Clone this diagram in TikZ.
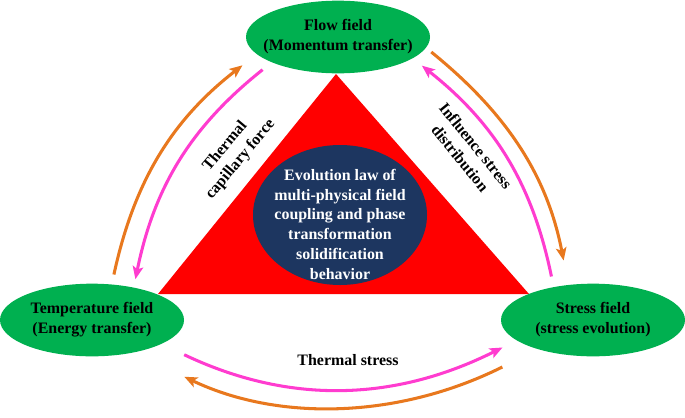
\documentclass[tikz,border=0pt]{standalone}
\usepackage{fontspec}
\setmainfont{Liberation Serif}
\usepackage{tikz}
\usetikzlibrary{arrows.meta}
\usetikzlibrary{shapes.geometric}
\usepackage{xcolor}
\definecolor{fieldgreen}{HTML}{00B050}
\definecolor{corenavy}{HTML}{1D3660}
\definecolor{warmorange}{HTML}{E8781E}
\definecolor{hotpink}{HTML}{FF3CCF}

\begin{document}
\begin{tikzpicture}[x=0.03cm,y=-0.03cm,
		field/.style={ellipse,fill=fieldgreen,inner sep=-30pt,minimum width=5.52cm,minimum height=2.18cm,font=\bfseries\fontsize{13.6}{17}\selectfont,align=center},
		note/.style={font=\bfseries\fontsize{13.6}{17}\selectfont,align=center,inner sep=1pt},
		flux/.style={line width=2.6pt,-{Stealth[length=11pt,width=9pt,inset=2.5pt]}}]
		\useasboundingbox (0,0) rectangle (685,417);
		\fill[red] (158,294) -- (529,294) -- (336,74) -- cycle;
		\node[field] (flow) at (338,37) {Flow field\\(Momentum transfer)};
		\node[field] (temp) at (92,320) {Temperature field\\(Energy transfer)};
		\node[field] (stress) at (593,320) {Stress field\\(stress evolution)};
		\node[ellipse,fill=corenavy,inner sep=-30pt,minimum width=5.22cm,minimum height=4.2cm] (core) at (340,215) {};
		\node[note,text=white] (law) at ([yshift=-8pt]core.center) {Evolution law of\\multi-physical field\\coupling and phase\\transformation\\solidification\\behavior};
		\node[note,rotate=50] (capillary) at (233,153) {Thermal\\capillary force};
		\node[note,rotate=-51] (influence) at (468,152) {Influence stress\\distribution};
		\node[note] (thermstress) at (348,360) {Thermal stress};
		\draw[flux,warmorange,shorten <=0.3cm,shorten >=0.54cm] (temp.61) to[bend left=20] (flow.192);
		\draw[flux,hotpink,shorten <=0.35cm,shorten >=0.25cm] (flow.201) to[bend right=20] (temp.38);
		\draw[flux,warmorange,shorten <=0.2cm,shorten >=0.74cm] (flow.353) to[bend left=20] (stress.125);
		\draw[flux,hotpink,shorten <=0.32cm,shorten >=0.35cm] (stress.140) to[bend right=20] (flow.344);
		\draw[flux,hotpink,shorten <=0.75cm,shorten >=0.47cm] (temp.341) to[bend right=26] (stress.195);
		\draw[flux,warmorange,shorten <=1.19cm,shorten >=1.68cm] (stress.208) to[bend left=26] (temp.322);
	\end{tikzpicture}
\end{document}
